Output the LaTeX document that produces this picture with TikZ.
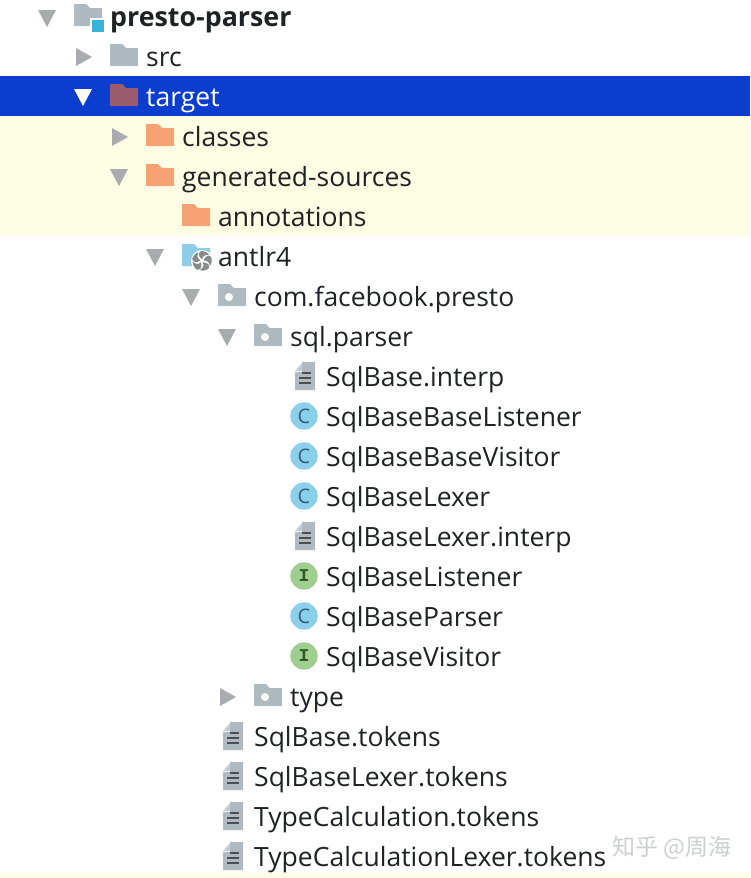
\documentclass[tikz,border=0pt]{standalone}
\usepackage{fontspec}
\setmainfont{Open Sans}
\newfontfamily\cjkfont{Noto Sans CJK SC}
\newfontfamily\slabfont{Liberation Mono}
\definecolor{rowblue}{HTML}{0B3DCE}
\definecolor{rowcream}{HTML}{FDFDE4}
\definecolor{inkdark}{HTML}{1F2124}
\definecolor{arrowgray}{HTML}{A9ABAE}
\definecolor{foldergray}{HTML}{AEB9C0}
\definecolor{folderorange}{HTML}{F6A272}
\definecolor{folderred}{HTML}{9A5B6E}
\definecolor{folderblue}{HTML}{8DCDEA}
\definecolor{modblue}{HTML}{38B3DA}
\definecolor{classblue}{HTML}{8CCFEA}
\definecolor{classink}{HTML}{2C6075}
\definecolor{ifacegreen}{HTML}{A0CE8E}
\definecolor{ifaceink}{HTML}{2F5B2A}
\definecolor{markgray}{HTML}{CDCFD1}
\tikzset{
	rowtext/.style={anchor=base west,inner sep=0pt,text=inkdark,font=\fontsize{26.5}{30}\selectfont},
	classletter/.style={inner sep=0pt,text=classink,font=\fontsize{20}{22}\selectfont},
	ifaceletter/.style={inner sep=0pt,text=ifaceink,font=\slabfont\fontsize{18}{20}\selectfont\bfseries},
}
% folder with its left edge at #1, row centre at #2
\newcommand{\foldershape}[3]{\fill[#3] (#1,#2-13)--(#1+12,#2-13)--(#1+16,#2-9)--(#1+28,#2-9)--(#1+28,#2+9)--(#1,#2+9)--cycle;}
\newcommand{\pkgfolder}[2]{\foldershape{#1}{#2}{foldergray}\fill[white] (#1+11,#2) circle (4);}
\newcommand{\openarrow}[3]{\fill[#3] (#1-9,#2-8)--(#1+9,#2-8)--(#1,#2+9)--cycle;}
\newcommand{\closedarrow}[2]{\fill[arrowgray] (#1-8,#2-9)--(#1+8,#2)--(#1-8,#2+9)--cycle;}
\newcommand{\fileicon}[2]{
	\fill[foldergray] (#1-3,#2-5)--(#1+4,#2-5)--(#1+4,#2-15)--(#1+17,#2-15)--(#1+17,#2+13)--(#1-3,#2+13)--cycle;
	\fill[foldergray!70] (#1-3,#2-6)--(#1+4,#2-14)--(#1+4,#2-6)--cycle;
	\fill[inkdark!80] (#1+4,#2-5) rectangle (#1+13,#2-3);
	\fill[inkdark!80] (#1+1,#2) rectangle (#1+13,#2+2);
	\fill[inkdark!80] (#1+1,#2+5) rectangle (#1+13,#2+7);
}
\begin{document}
\begin{tikzpicture}[x=1pt,y=-1pt,line cap=round,line join=round]
	\useasboundingbox (0,0) rectangle (750,878);
	\fill[white] (0,0) rectangle (750,878);
	\fill[rowblue] (0,76) rectangle (750,116);
	\fill[rowcream] (0,116) rectangle (750,236);
	\fill[rowcream] (0,873) rectangle (750,878);
	% tree arrows
	\openarrow{47}{18}{arrowgray}
	\closedarrow{84}{57}
	\openarrow{83}{97}{white}
	\closedarrow{120}{137}
	\openarrow{119}{177}{arrowgray}
	\openarrow{155}{257}{arrowgray}
	\openarrow{191}{297}{arrowgray}
	\openarrow{227}{337}{arrowgray}
	\closedarrow{228}{697}
	% folders
	\foldershape{74}{17}{foldergray}
	\fill[white] (90,18) rectangle (104,33);
	\fill[modblue] (92,20) rectangle (104,32);
	\foldershape{110}{57}{foldergray}
	\foldershape{110}{97}{folderred}
	\foldershape{146}{137}{folderorange}
	\foldershape{146}{177}{folderorange}
	\foldershape{182}{217}{folderorange}
	\foldershape{182}{257}{folderblue}
	\fill[white] (202,261) circle (11);
	\foreach \a in {0,72,...,288}
		\fill[arrowgray!80!black,rotate around={\a:(202,261)}] (202,259.5) .. controls (198,256) and (198,253) .. (201,251) .. controls (205,251) and (208,253) .. (209,255) .. controls (205,254.5) and (203,256) .. (202,259.5);
	\pkgfolder{218}{297}
	\pkgfolder{254}{337}
	\pkgfolder{254}{697}
	% file icons
	\fileicon{298}{377}
	\fileicon{298}{537}
	\fileicon{226}{737}
	\fileicon{226}{777}
	\fileicon{226}{817}
	\fileicon{226}{857}
	% class and interface icons
	\fill[classblue] (304,416) circle (13.7);
	\node[classletter] (cBaseListener) at (304,416) {C};
	\fill[classblue] (304,456) circle (13.7);
	\node[classletter] (cBaseVisitor) at (304,456) {C};
	\fill[classblue] (304,496) circle (13.7);
	\node[classletter] (cLexer) at (304,496) {C};
	\fill[ifacegreen] (304,576) circle (13.7);
	\node[ifaceletter] (iListener) at (304,576) {I};
	\fill[classblue] (304,616) circle (13.7);
	\node[classletter] (cParser) at (304,616) {C};
	\fill[ifacegreen] (304,656) circle (13.7);
	\node[ifaceletter] (iVisitor) at (304,656) {I};
	% labels
	\node[rowtext,font=\fontsize{26.8}{30}\selectfont\bfseries] (prestoParser) at (110,26) {presto-parser};
	\node[rowtext] (src) at (146,66) {src};
	\node[rowtext,text=white] (target) at (146,106) {target};
	\node[rowtext] (classes) at (182,146) {classes};
	\node[rowtext] (genSources) at (182,186) {generated-sources};
	\node[rowtext] (annotations) at (218,226) {annotations};
	\node[rowtext] (antlr) at (218,266) {antlr4};
	\node[rowtext] (comFacebook) at (254,306) {com.facebook.presto};
	\node[rowtext] (sqlParser) at (290,346) {sql.parser};
	\node[rowtext] (baseInterp) at (326,386) {SqlBase.interp};
	\node[rowtext] (baseListener) at (326,426) {SqlBaseBaseListener};
	\node[rowtext] (baseVisitor) at (326,466) {SqlBaseBaseVisitor};
	\node[rowtext] (lexer) at (326,506) {SqlBaseLexer};
	\node[rowtext] (lexerInterp) at (326,546) {SqlBaseLexer.interp};
	\node[rowtext] (listener) at (326,586) {SqlBaseListener};
	\node[rowtext] (parser) at (326,626) {SqlBaseParser};
	\node[rowtext] (visitor) at (326,666) {SqlBaseVisitor};
	\node[rowtext] (type) at (290,706) {type};
	\node[rowtext] (baseTokens) at (254,746) {SqlBase.tokens};
	\node[rowtext] (lexerTokens) at (254,786) {SqlBaseLexer.tokens};
	\node[rowtext] (typeTokens) at (254,826) {TypeCalculation.tokens};
	\node[rowtext] (typeLexerTokens) at (254,866) {TypeCalculationLexer.tokens};
	% watermark
	\node[anchor=base west,inner sep=0pt,text=markgray,font=\cjkfont\fontsize{23}{26}\selectfont] (mark) at (612,855) {知乎 @周海};
\end{tikzpicture}
\end{document}
